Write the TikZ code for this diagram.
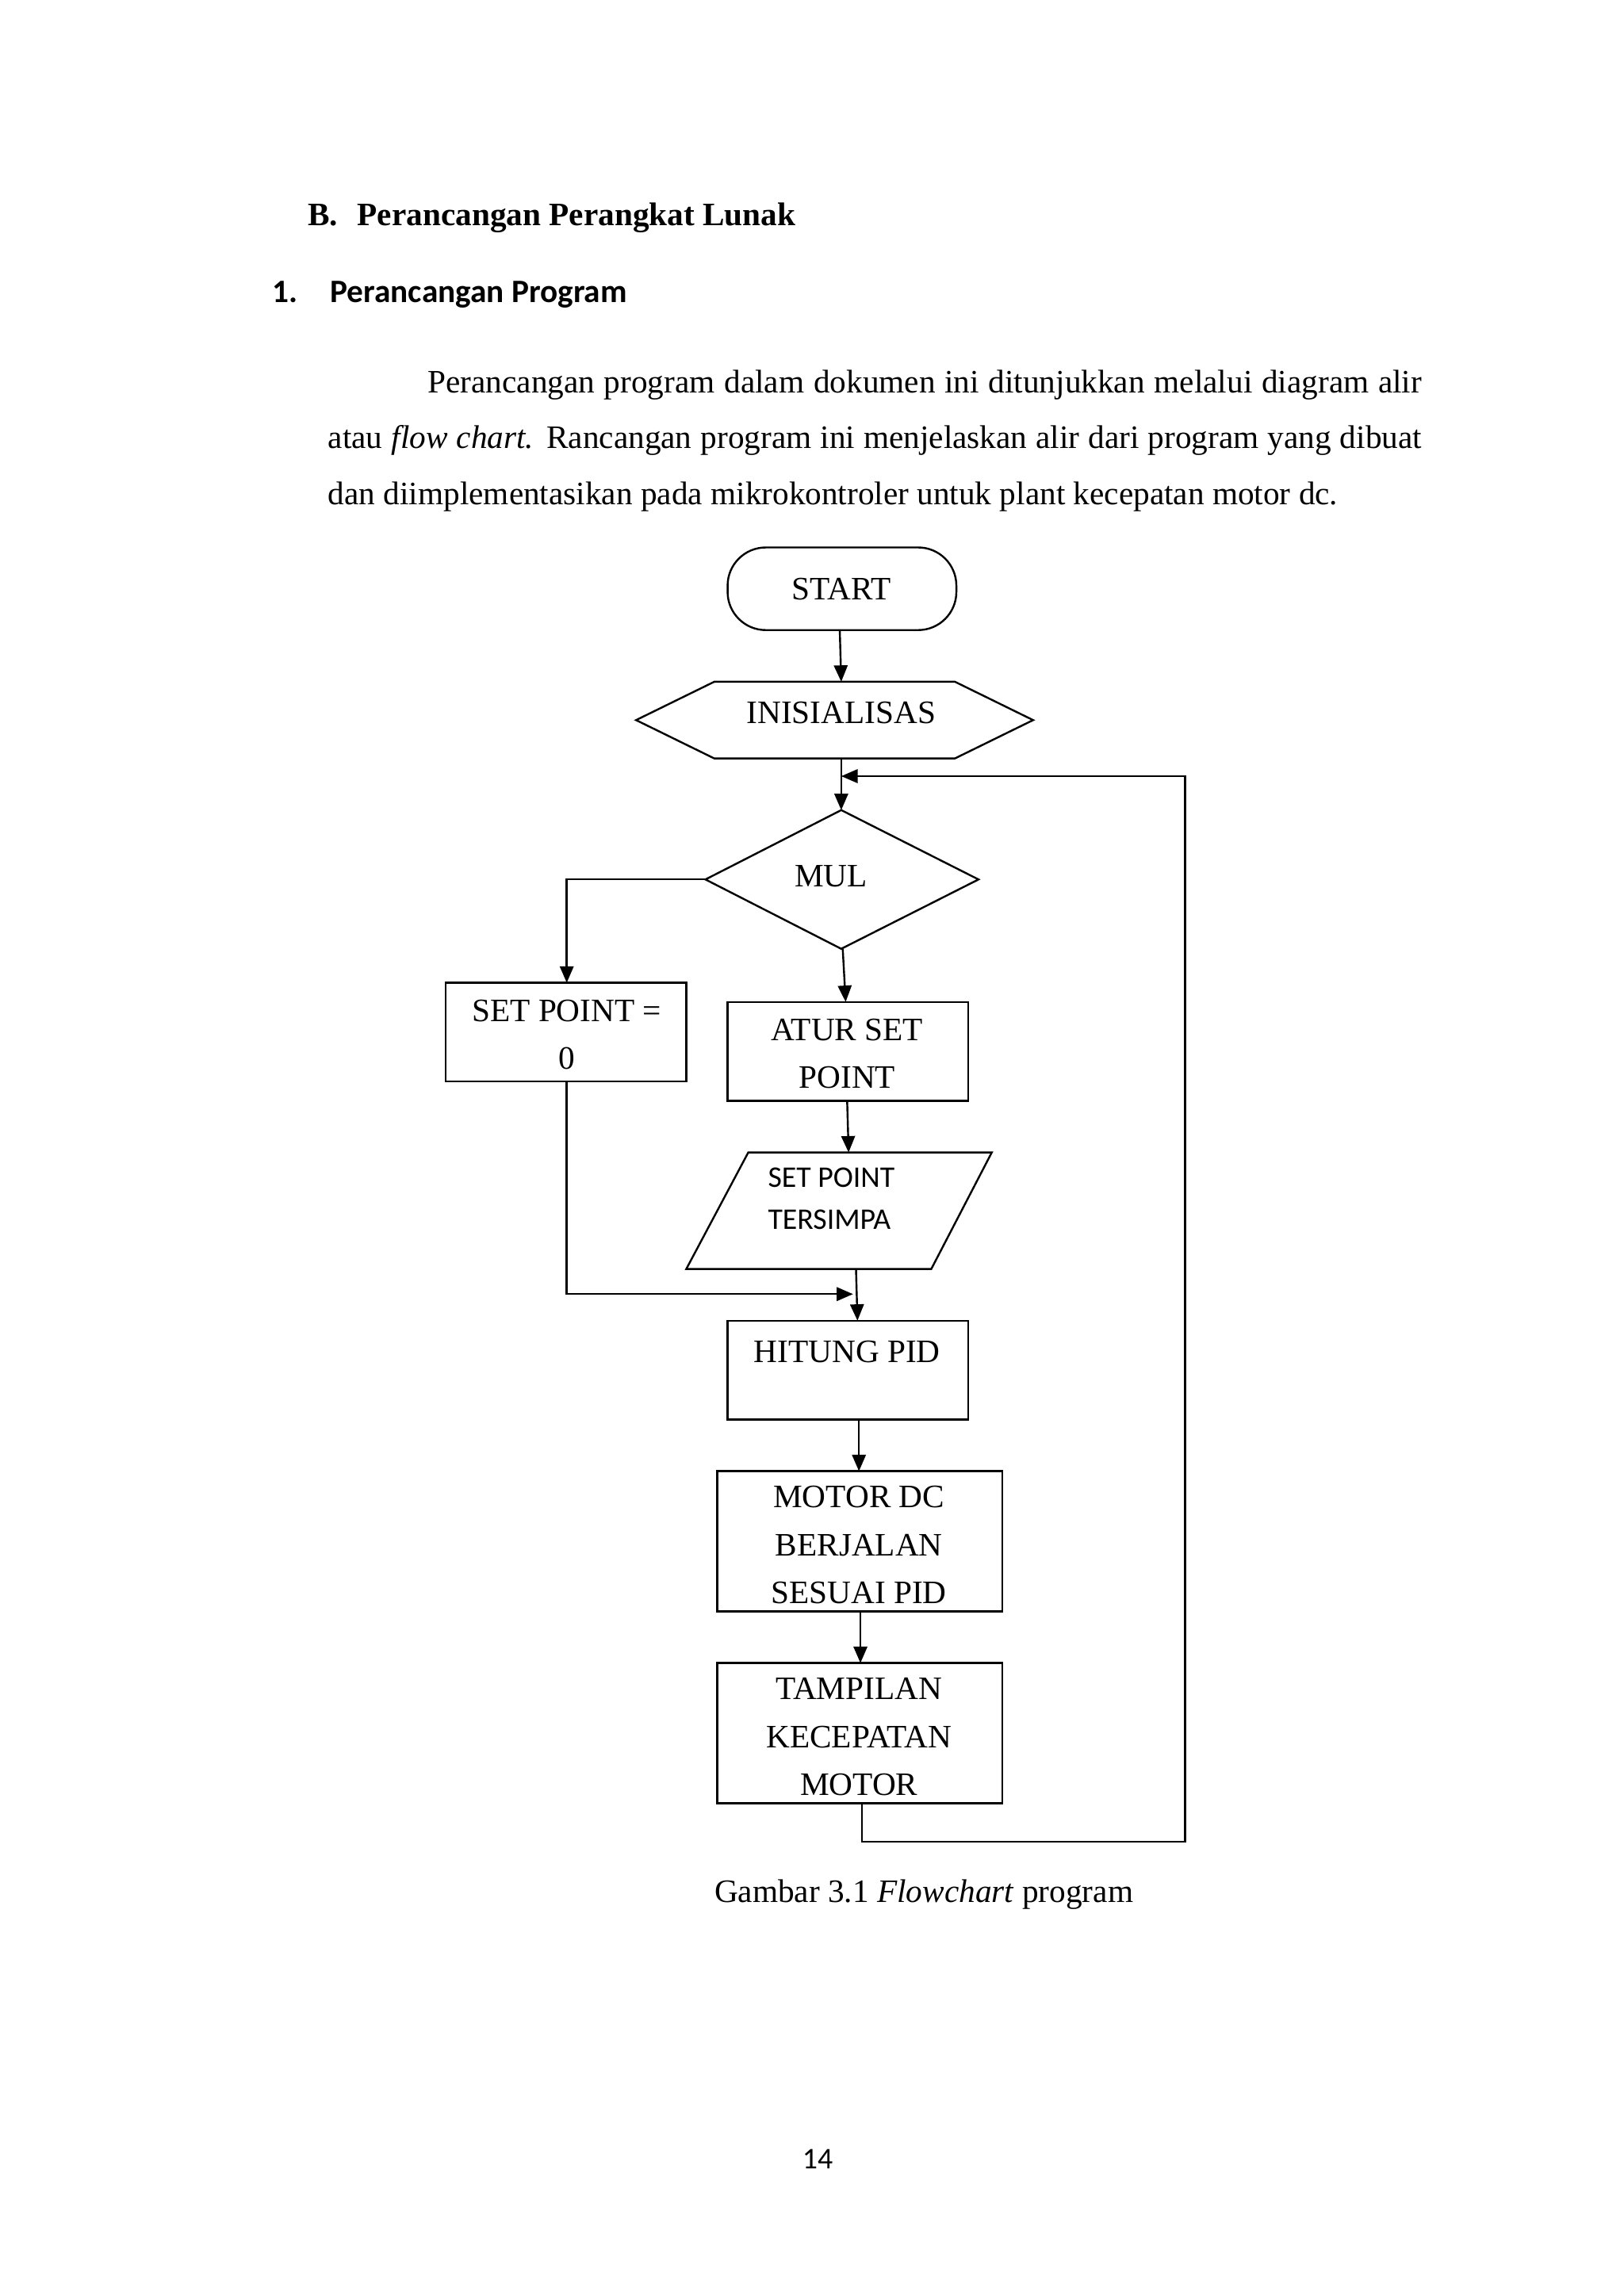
\documentclass[tikz,border=0pt]{standalone}
\usepackage{fontspec}
\setmainfont{Liberation Serif}
\newfontfamily\calib{Carlito}
\usetikzlibrary{arrows.meta,shapes.misc}
\begin{document}
\begin{tikzpicture}[x=0.5412pt,y=-0.5412pt,font=\fontsize{12}{14.5}\selectfont,
  ln/.style={line width=0.7pt},
  arr/.style={ln,-{Triangle[length=6pt,width=5pt]}},
  box/.style={ln,draw},
  lbl/.style={align=center,inner sep=0pt}]
\useasboundingbox (0,0) rectangle (1100,1556);
% header text
\node[anchor=base west,font=\fontsize{12}{14}\selectfont\bfseries] (h1) at (202,153) {B.\hspace{0.6em}Perancangan Perangkat Lunak};
\node[anchor=base west,font=\calib\fontsize{12}{14}\selectfont\bfseries] (h2) at (178,205) {1.\hspace{1em}Perancangan Program};
\node[anchor=base west,inner sep=0pt,text width=741*0.5412pt,align=justify,font=\fontsize{12}{20.6}\selectfont] (par) at (222,266)
 {\hspace*{36.5pt}Perancangan program dalam dokumen ini ditunjukkan melalui diagram alir atau \textit{flow chart.} Rancangan program ini menjelaskan alir dari program yang dibuat dan diimplementasikan pada mikrokontroler untuk plant kecepatan motor dc.};
% shapes
\draw[box,rounded corners=14pt] (493,371) rectangle (648,427);
\node[lbl] (start) at (570,399) {START};
\coordinate (startb) at (569,427);
\draw[box] (431,488) -- (484,462) -- (647,462) -- (700,488) -- (647,514) -- (484,514) -- cycle;
\node[lbl] (ini) at (570,483) {INISIALISAS};
\coordinate (init) at (570,462);
\coordinate (inib) at (570,514);
\draw[box] (570,549) -- (663,596) -- (570,643) -- (478,596) -- cycle;
\node[lbl] (mul) at (563,594) {MUL};
\coordinate (mult) at (570,549);
\coordinate (mulb) at (571,643);
\coordinate (mull) at (478,596);
\draw[box] (302,666) rectangle (465,733);
\node[lbl] (sp0) at (384,701) {SET POINT =\\[3pt]0};
\coordinate (sp0t) at (384,666);
\coordinate (sp0b) at (384,733);
\draw[box] (493,679) rectangle (656,746);
\node[lbl] (atur) at (574,714) {ATUR SET\\[3pt]POINT};
\coordinate (aturt) at (573,679);
\coordinate (aturb) at (574,746);
\draw[box] (507,781) -- (672,781) -- (631,860) -- (465,860) -- cycle;
\node[anchor=north west,align=left,inner sep=0pt,font=\calib\fontsize{11}{15.5}\selectfont] (spt) at (520,791) {SET POINT\\TERSIMPA};
\coordinate (sptt) at (575,781);
\coordinate (sptb) at (580,860);
\draw[box] (493,895) rectangle (656,962);
\node[lbl] (pid) at (574,916) {HITUNG PID};
\coordinate (pidt) at (581,895);
\coordinate (pidb) at (582,962);
\draw[box] (486,997) rectangle (679,1092);
\node[lbl] (mot) at (582,1047) {MOTOR DC\\[3pt]BERJALAN\\[3pt]SESUAI PID};
\coordinate (mott) at (582,997);
\coordinate (motb) at (583,1092);
\draw[box] (486,1127) rectangle (679,1222);
\node[lbl] (tam) at (582,1177) {TAMPILAN\\[3pt]KECEPATAN\\[3pt]MOTOR};
\coordinate (tamt) at (583,1127);
\coordinate (tamb) at (584,1222);
\coordinate (loopin) at (570,526);
% connectors
\draw[arr] (startb) -- (init);
\draw[arr] (inib) -- (mult);
\draw[arr] (mull) -| (sp0t);
\draw[arr] (mulb) -- (aturt);
\draw[arr] (aturb) -- (sptt);
\draw[arr] (sptb) -- (pidt);
\draw[arr] (sp0b) |- (578,877);
\draw[arr] (pidb) -- (mott);
\draw[arr] (motb) -- (tamt);
\draw[arr] (tamb) -- (584,1248) -- (803,1248) -- (803,526) -- (loopin);
% caption
\node[anchor=base,inner sep=0pt] (cap) at (626,1289) {Gambar 3.1 \textit{Flowchart} program};
\node[anchor=base,inner sep=0pt,font=\calib\fontsize{11}{13}\selectfont] (pg) at (554,1470) {14};
\end{tikzpicture}
\end{document}
